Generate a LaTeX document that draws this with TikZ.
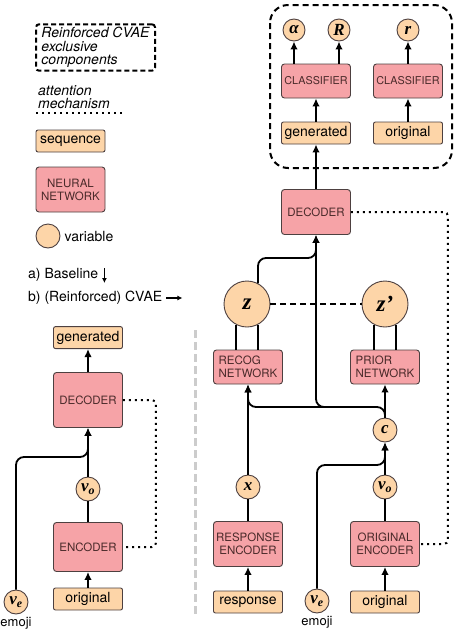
\documentclass[tikz,border=0pt]{standalone}
\usepackage{fontspec}
\setmainfont{TeX Gyre Heros}
\newfontfamily\varfont{Liberation Serif}
\usetikzlibrary{positioning,arrows.meta,calc}

\definecolor{seqfill}{HTML}{FDD5A8}
\definecolor{nnfill}{HTML}{F6A3A7}
\definecolor{boxline}{HTML}{4D4040}
\definecolor{nntext}{HTML}{4A2A2A}

\newcommand{\vr}[1]{{\varfont\bfseries\itshape #1}}
\newcommand{\vsub}[2]{\vr{#1}\textsubscript{\vr{#2}}}

\begin{document}
\begin{tikzpicture}[x=1pt,y=-1pt,
	seqnode/.style={rectangle, draw=boxline, line width=0.9pt, fill=seqfill, rounded corners=2pt, minimum width=69pt, minimum height=22pt, inner sep=1pt, font=\fontsize{14}{14}\selectfont},
	nnnode/.style={rectangle, draw=boxline, line width=0.9pt, fill=nnfill, rounded corners=3pt, minimum width=69pt, inner sep=2pt, align=center, text=nntext, font=\fontsize{11.5}{13}\selectfont},
	varnode/.style={circle, draw=boxline, line width=0.9pt, fill=seqfill, minimum size=24pt, inner sep=0pt, font=\fontsize{17}{17}\selectfont},
	bigvar/.style={varnode, minimum size=46pt, font=\fontsize{23}{23}\selectfont},
	legtext/.style={inner sep=0pt, font=\fontsize{14}{14}\selectfont},
	conn/.style={line width=1.8pt, -{Latex[length=8pt,width=7.5pt]}},
	wire/.style={line width=1.8pt},
	legarrow/.style={line width=1.1pt, -{Latex[length=5pt,width=5pt]}},
	attn/.style={line width=2pt, dash pattern=on 2pt off 4pt, rounded corners=4pt},
	exclbox/.style={line width=2pt, dash pattern=on 6pt off 4pt, rounded corners=18pt},
	divider/.style={line width=3pt, gray!40, dash pattern=on 8pt off 4pt}]
	\useasboundingbox (0,0) rectangle (460,638);

	% legend
	\node[draw, line width=2pt, dash pattern=on 5pt off 3pt, rounded corners=3pt, align=left, minimum width=119pt, minimum height=45pt, inner sep=3pt, font=\itshape\fontsize{14}{13.5}\selectfont] (exclleg) at (95.5,47.5) {Reinforced CVAE\\exclusive\\components};
	\node[legtext, align=left, anchor=north west, font=\itshape\fontsize{14}{13}\selectfont] (attnleg) at (38,85) {attention\\mechanism};
	\draw[attn] (36,113) -- (124,113);
	\node[seqnode] (seqleg) at (70.5,141) {sequence};
	\node[nnnode, minimum height=45pt] (nnleg) at (70.5,189.5) {NEURAL\\NETWORK};
	\node[varnode] (varleg) at (48,236) {};
	\node[legtext, right=4pt of varleg] (varlegtext) {variable};

	\node[legtext, anchor=west] (basel) at (28,275) {a) Baseline};
	\draw[legarrow] ($(basel.east)+(6,-7)$) -- ($(basel.east)+(6,8)$);
	\node[legtext, anchor=west] (cvael) at (28,298) {b) (Reinforced) CVAE};
	\draw[legarrow] ($(cvael.east)+(4,0)$) -- ($(cvael.east)+(20,0)$);

	% a) baseline
	\node[seqnode] (borig) at (88,599) {original};
	\node[nnnode, minimum height=49pt] (benc) at (88,547) {ENCODER};
	\node[varnode] (bvo) at (88,489) {\vsub{v}{o}};
	\node[nnnode, minimum height=55pt] (bdec) at (88,400) {DECODER};
	\node[seqnode, above=23pt of bdec] (bgen) {generated};
	\node[varnode] (bve) at (16,602) {\vsub{v}{e}};
	\node[legtext, font=\fontsize{13}{13}\selectfont, below=3pt of bve] (bemoji) {emoji};
	\coordinate (bjoin) at (88,457);

	\draw[conn] (borig) -- (benc);
	\draw[wire] (benc) -- (bvo);
	\draw[conn] (bvo) -- (bdec);
	\draw[conn, rounded corners=8pt] (bve) |- (bjoin) -- (bdec);
	\draw[conn] (bdec) -- (bgen);
	\draw[attn] (bdec.east) -| ([xshift=33pt]benc.east) -- (benc.east);

	\draw[divider] (195,330) -- (195,615);

	% b) (reinforced) cvae
	\draw[exclbox] (270,5) rectangle (452,168);

	\node[seqnode] (rresp) at (248,602) {response};
	\node[nnnode, minimum height=45pt] (rrenc) at (248,544) {RESPONSE\\ENCODER};
	\node[varnode] (rx) at (248,487) {\vr{x}};
	\node[seqnode] (rorig) at (385,602) {original};
	\node[nnnode, minimum height=45pt] (roenc) at (385,544) {ORIGINAL\\ENCODER};
	\node[varnode] (rvo) at (385,487) {\vsub{v}{o}};
	\node[varnode] (rc) at (385,430) {\vr{c}};
	\node[nnnode, minimum height=34pt, align=left] (rprior) at (385,367) {PRIOR\\NETWORK};
	\node[bigvar] (rzp) at (385,304) {\vr{z’}};
	\node[nnnode, minimum height=34pt, align=left] (rrecog) at (248,367) {RECOG\\NETWORK};
	\node[bigvar] (rz) at (247,304) {\vr{z}};
	\node[varnode] (rve) at (317,601) {\vsub{v}{e}};
	\node[legtext, font=\fontsize{13}{13}\selectfont, below=3pt of rve] (remoji) {emoji};

	\node[nnnode, minimum height=45pt] (rdec) at (316,212) {DECODER};
	\node[seqnode] (rgen) at (316,133) {generated};
	\node[nnnode, minimum height=34pt, font=\fontsize{10.8}{13}\selectfont] (rcls1) at (316,81) {CLASSIFIER};
	\node[seqnode] (rorig2) at (408,133) {original};
	\node[nnnode, minimum height=34pt, font=\fontsize{10.8}{13}\selectfont] (rcls2) at (408,81) {CLASSIFIER};
	\node[varnode, minimum size=22pt] (ralpha) at (294,30) {\vr{α}};
	\node[varnode, minimum size=22pt] (rR) at (339,30) {\vr{R}};
	\node[varnode, minimum size=22pt] (rr) at (408,30) {\vr{r}};

	\coordinate (rbus) at (316,407);
	\coordinate (rjoin) at (316,258);
	\coordinate (rvejoin) at (385,465);

	\draw[conn] (rresp) -- (rrenc);
	\draw[wire] (rrenc) -- (rx);
	\draw[conn] (rx) -- (rrecog);
	\draw[conn] (rorig) -- (roenc);
	\draw[wire] (roenc) -- (rvo);
	\draw[conn] (rvo) -- (rc);
	\draw[conn, rounded corners=8pt] (rve) |- (rvejoin) -- (rc);
	\draw[conn] (rc) -- (rprior);
	\draw[conn, rounded corners=8pt] (rc.north) |- (rbus) -| (rrecog.south);
	\draw[conn, rounded corners=8pt] ([xshift=25pt]rbus) -| (rdec.south);
	\draw[wire] (rz.-62) -- (rz.-62 |- rrecog.north);
	\draw[wire] (rz.-118) -- (rz.-118 |- rrecog.north);
	\draw[wire] (rzp.-62) -- (rzp.-62 |- rprior.north);
	\draw[wire] (rzp.-118) -- (rzp.-118 |- rprior.north);
	\draw[conn, rounded corners=8pt] (rz.62) |- (rjoin) -- (rdec.south);
	\draw[line width=1.8pt, dash pattern=on 6pt off 4pt] (rz) -- (rzp);
	\draw[attn] (rdec.east) -| ([xshift=28pt]roenc.east) -- (roenc.east);

	\draw[conn] (rdec) -- (rgen);
	\draw[conn] (rgen) -- (rcls1);
	\draw[conn] (rorig2) -- (rcls2);
	\draw[conn] (rcls1.north -| ralpha) -- (ralpha);
	\draw[conn] (rcls1.north -| rR) -- (rR);
	\draw[conn] (rcls2) -- (rr);
\end{tikzpicture}
\end{document}
